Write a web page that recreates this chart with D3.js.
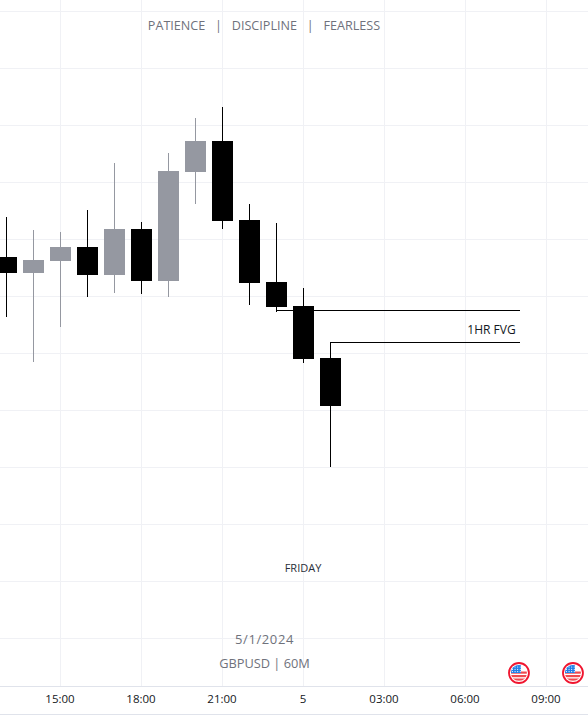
<!DOCTYPE html>
<html>
<head>
<meta charset="utf-8">
<style>
  html, body { margin: 0; padding: 0; background: #fff; overflow: hidden; }
  svg { display: block; }
  text { font-family: "Open Sans", "Noto Sans", sans-serif; white-space: pre; }
</style>
<script src="https://cdn.jsdelivr.net/npm/d3@7"></script>
</head>
<body>
<div id="chart"></div>
<script>
// hourly candles, first one is 13:00 on the 4th
const startHour = 13;
const opens  = [1.25469, 1.25441, 1.25462, 1.25487, 1.25438, 1.25518, 1.25427, 1.25618, 1.25673, 1.25534, 1.25425, 1.25383, 1.25292];
const highs  = [1.25539, 1.25517, 1.25513, 1.25552, 1.25634, 1.25531, 1.25652, 1.25713, 1.25732, 1.25562, 1.25529, 1.25415, 1.25320];
const lows   = [1.25364, 1.25285, 1.25346, 1.25399, 1.25406, 1.25404, 1.25399, 1.25562, 1.25518, 1.25385, 1.25373, 1.25283, 1.25101];
const closes = [1.25441, 1.25464, 1.25487, 1.25438, 1.25518, 1.25427, 1.25620, 1.25673, 1.25532, 1.25424, 1.25382, 1.25290, 1.25208];

// ruled levels from the drawing tools: price and start hour
const levelPrices = [1.25376, 1.25320];
const levelStarts = [23, 25];
const levelEnd = 32; // 08:00

const priceTicks = [1.2480, 1.2490, 1.2500, 1.2510, 1.2520, 1.2530, 1.2540, 1.2550, 1.2560, 1.2570, 1.2580, 1.2590];
const timeTicks = [15, 18, 21, 24, 27, 30, 33];
const timeLabels = ['15:00', '18:00', '21:00', '5', '03:00', '06:00', '09:00'];
const eventHours = [31.98, 33.98];

const width = 588, height = 715;
const axisTop = 686;

const x = d3.scaleLinear().domain([15, 18]).range([60.5, 141.5]);
const y = d3.scaleLinear().domain([1.2480, 1.2590]).range([638.5, 11.5]);

const candles = opens.map((o, i) => ({
  hour: startHour + i, open: o, high: highs[i], low: lows[i], close: closes[i]
}));

const svg = d3.select('#chart').append('svg')
  .attr('width', width)
  .attr('height', height);

// grid
const grid = svg.append('g').attr('shape-rendering', 'crispEdges').attr('stroke', '#f0f1f5');
grid.selectAll('.h').data(priceTicks).join('line')
  .attr('x1', 0).attr('x2', width)
  .attr('y1', d => y(d)).attr('y2', d => y(d));
grid.selectAll('.v').data(timeTicks).join('line')
  .attr('x1', d => x(d)).attr('x2', d => x(d))
  .attr('y1', 0).attr('y2', axisTop);

// candles
const candleColor = d => d.close >= d.open ? '#9598a1' : '#000000';
const marks = svg.append('g').attr('shape-rendering', 'crispEdges');
const candle = marks.selectAll('g').data(candles).join('g').attr('fill', candleColor);
candle.append('rect')
  .attr('x', d => x(d.hour) - 0.5)
  .attr('width', 1)
  .attr('y', d => Math.round(y(d.high)))
  .attr('height', d => Math.round(y(d.low)) - Math.round(y(d.high)));
candle.append('rect')
  .attr('x', d => x(d.hour) - 10.5)
  .attr('width', 21)
  .attr('y', d => Math.round(y(Math.max(d.open, d.close))))
  .attr('height', d => Math.round(y(Math.min(d.open, d.close))) - Math.round(y(Math.max(d.open, d.close))));

// FVG levels
svg.append('g').attr('shape-rendering', 'crispEdges').attr('stroke', '#000')
  .selectAll('line').data(levelPrices).join('line')
  .attr('x1', (d, i) => x(levelStarts[i]) - 1)
  .attr('x2', x(levelEnd))
  .attr('y1', d => Math.floor(y(d)) + 0.5)
  .attr('y2', d => Math.floor(y(d)) + 0.5);

// notes on the chart
const notes = [
  ['PATIENCE   |   DISCIPLINE   |   FEARLESS', 264, 30, 12.6, '#6f727c', 0],
  ['1HR FVG', 491.5, 334, 12, '#131722', 0],
  ['FRIDAY', 303, 572, 11, '#2a2e39', 0],
  ['5/1/2024', 264.5, 644, 13, '#6f727c', 0.6],
  ['GBPUSD | 60M', 264.5, 668, 12.8, '#6f727c', 0]
];
svg.append('g').selectAll('text').data(notes).join('text')
  .attr('x', d => d[1]).attr('y', d => d[2])
  .attr('text-anchor', 'middle')
  .attr('font-size', d => d[3])
  .attr('fill', d => d[4])
  .attr('letter-spacing', d => d[5])
  .text(d => d[0]);

// earnings style flag markers
const defs = svg.append('defs');
defs.append('clipPath').attr('id', 'flagClip').append('circle').attr('r', 8);
const flag = svg.append('g').selectAll('g').data(eventHours).join('g')
  .attr('transform', d => `translate(${x(d)},673)`);
flag.append('circle').attr('r', 10).attr('fill', '#fff').attr('stroke', '#f0152f').attr('stroke-width', 1.8);
const inner = flag.append('g').attr('clip-path', 'url(#flagClip)');
inner.append('rect').attr('x', -8).attr('y', -8).attr('width', 16).attr('height', 16).attr('fill', '#fff');
inner.selectAll('.stripe').data([-1.5, 2, 5.5]).join('rect')
  .attr('x', -8).attr('width', 16).attr('y', d => d).attr('height', 2.2).attr('fill', '#ef4a4f');
inner.append('rect').attr('x', -8).attr('y', -8).attr('width', 10).attr('height', 8).attr('fill', '#1f7fe8');
inner.selectAll('.star').data(d3.range(12)).join('circle')
  .attr('cx', d => -6.5 + (d % 4) * 2.6)
  .attr('cy', d => -6 + Math.floor(d / 4) * 2.3)
  .attr('r', 0.6).attr('fill', '#fff');

// time axis
svg.append('rect').attr('x', 0).attr('y', axisTop).attr('width', width).attr('height', 1).attr('fill', '#e0e3eb');
svg.append('rect').attr('x', 0).attr('y', 714).attr('width', width).attr('height', 1).attr('fill', '#e0e3eb');
const axis = svg.append('g')
  .attr('transform', `translate(-1,${axisTop})`)
  .call(d3.axisBottom(x).tickValues(timeTicks).tickSize(0).tickPadding(9)
    .tickFormat((d, i) => timeLabels[i]));
axis.select('.domain').remove();
axis.selectAll('text')
  .attr('font-family', '"Open Sans", "Noto Sans", sans-serif')
  .attr('font-size', 11.5)
  .attr('fill', '#131722');
</script>
</body>
</html>
